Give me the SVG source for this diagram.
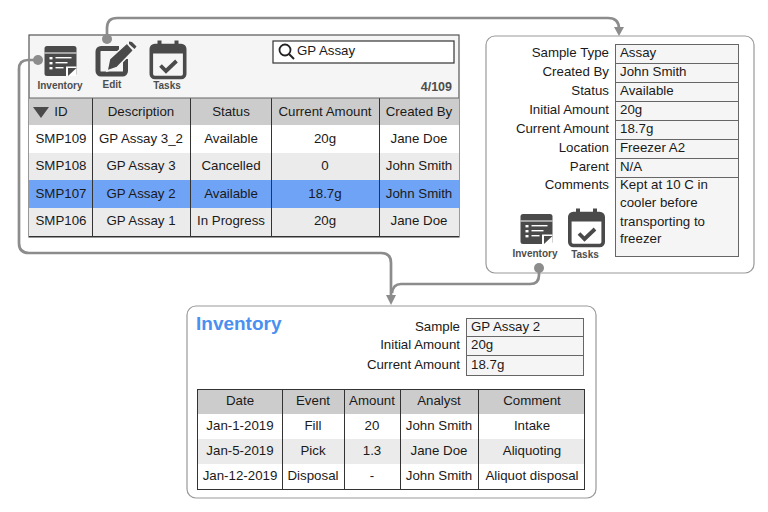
<svg xmlns="http://www.w3.org/2000/svg" width="768" height="512" viewBox="0 0 768 512">
<style>
text{font-family:"Liberation Sans",Arial,sans-serif;font-size:13.3px;fill:#1a1a1a;transform:translateY(-.6px)}
.m{text-anchor:middle}.e{text-anchor:end}
.ic{font-size:10px;font-weight:bold;fill:#4d4d4d;text-anchor:middle}
.card{fill:#fff;stroke:#999;stroke-width:1.2}
.ln{fill:none;stroke:#333;stroke-width:1}
.cell{fill:#f5f5f5;stroke:#666;stroke-width:1}
.conn{fill:none;stroke:#8c8c8c;stroke-width:2.7}
.dot{fill:#8c8c8c}
</style>
<defs>
<g id="inv"><rect x="0" y="0" width="32" height="30" rx="2.5" fill="#4a4a4a"/><path d="M0 7H32" stroke="#fff" stroke-width="1"/><path d="M21.500 30V20.500H32V30Z" fill="#fff"/><path d="M23.500 30V22H32Z" fill="#4a4a4a"/><g fill="#fff"><rect x="5" y="11" width="3" height="2.4"/><rect x="5" y="16" width="3" height="2.4"/><rect x="5" y="21" width="3" height="2.4"/><rect x="11" y="11" width="16" height="1.4"/><rect x="11" y="16" width="12" height="1.4"/><rect x="11" y="21" width="8" height="1.4"/></g></g>
<g id="task"><rect x="1.8" y="5" width="33.4" height="32" rx="3.5" fill="none" stroke="#4a4a4a" stroke-width="3.6"/><rect x="2" y="5" width="33" height="8" fill="#4a4a4a"/><rect x="8" y="0" width="4" height="8" fill="#4a4a4a"/><rect x="25" y="0" width="4" height="8" fill="#4a4a4a"/><path d="M11 25L16.500 30.500L27 20.500" fill="none" stroke="#4a4a4a" stroke-width="3.800"/></g>
</defs>

<g id="main-panel">
<rect x="29" y="35" width="430" height="202" fill="#f5f5f5" stroke="#555" stroke-width="1.2"/>
</g>
<g id="search"><rect x="273" y="41" width="181" height="22" fill="#fff" stroke="#333" stroke-width="1.2"/><circle cx="285" cy="50" r="5.500" fill="none" stroke="#222" stroke-width="1.800"/><path d="M289 54L294 59" stroke="#222" stroke-width="2"/><text x="297" y="56">GP Assay</text></g>
<text x="452" y="92" class="e" style="font-weight:bold;font-size:12.5px;fill:#4d4d4d">4/109</text>
<g id="icon-inventory"><use href="#inv" x="44.500" y="46"/><text x="60" y="90" class="ic">Inventory</text></g>
<g id="icon-edit"><path d="M119 48.500H101a3 3 0 0 0 -3 3V71a3 3 0 0 0 3 3H122.500a3 3 0 0 0 3 -3V59" fill="none" stroke="#4a4a4a" stroke-width="5"/><path d="M107 71L109.500 59L127 43L133.500 50.500L117 67.500Z" fill="#4a4a4a" stroke="#f5f5f5" stroke-width="1.500"/><path d="M129 41.500L132 42L136.500 46.500L134.500 49L129 44Z" fill="#4a4a4a"/><text x="112" y="89" class="ic">Edit</text></g>
<g id="icon-tasks"><use href="#task" x="149.500" y="40.500"/><text x="167" y="90" class="ic">Tasks</text></g>

<g id="main-table">
<rect x="29" y="98" width="430" height="27" fill="#ccc"/>
<rect x="29" y="125" width="430" height="28" fill="#fff"/>
<rect x="29" y="153" width="430" height="27" fill="#ebebeb"/>
<rect x="29" y="180" width="430" height="28" fill="#6fa3f5"/>
<rect x="29" y="208" width="430" height="28" fill="#ebebeb"/>
<path class="ln" d="M92.500 98V236M190.500 98V236M271.500 98V236M379.500 98V236" />
<path d="M29 98H459" stroke="#666" stroke-width="1.200"/>
<path d="M29 236.500H459" stroke="#333"/>
<path d="M33 107H49L41 118Z" fill="#4a4a4a"/>
<text x="61" y="117" class="m">ID</text><text x="141" y="117" class="m">Description</text><text x="231" y="117" class="m">Status</text><text x="325" y="117" class="m">Current Amount</text><text x="419" y="117" class="m">Created By</text>
<text x="61" y="144" class="m">SMP109</text><text x="141" y="144" class="m">GP Assay 3_2</text><text x="231" y="144" class="m">Available</text><text x="325" y="144" class="m">20g</text><text x="419" y="144" class="m">Jane Doe</text>
<text x="61" y="171" class="m">SMP108</text><text x="141" y="171" class="m">GP Assay 3</text><text x="231" y="171" class="m">Cancelled</text><text x="325" y="171" class="m">0</text><text x="419" y="171" class="m">John Smith</text>
<text x="61" y="199" class="m">SMP107</text><text x="141" y="199" class="m">GP Assay 2</text><text x="231" y="199" class="m">Available</text><text x="325" y="199" class="m">18.7g</text><text x="419" y="199" class="m">John Smith</text>
<text x="61" y="226" class="m">SMP106</text><text x="141" y="226" class="m">GP Assay 1</text><text x="231" y="226" class="m">In Progress</text><text x="325" y="226" class="m">20g</text><text x="419" y="226" class="m">Jane Doe</text>
</g>

<g id="detail-panel">
<rect x="486" y="36" width="268" height="237" rx="9" class="card"/>
<g>
<rect class="cell" x="615.500" y="44.500" width="123" height="19"/><rect class="cell" x="615.500" y="63.500" width="123" height="19"/><rect class="cell" x="615.500" y="82.500" width="123" height="19"/><rect class="cell" x="615.500" y="101.500" width="123" height="19"/><rect class="cell" x="615.500" y="120.500" width="123" height="19"/><rect class="cell" x="615.500" y="139.500" width="123" height="19"/><rect class="cell" x="615.500" y="158.500" width="123" height="19"/><rect class="cell" x="615.500" y="177.500" width="123" height="79"/>
</g>
<text x="609" y="58" class="e">Sample Type</text><text x="609" y="77" class="e">Created By</text><text x="609" y="96" class="e">Status</text><text x="609" y="115" class="e">Initial Amount</text><text x="609" y="134" class="e">Current Amount</text><text x="609" y="153" class="e">Location</text><text x="609" y="172" class="e">Parent</text><text x="609" y="190" class="e">Comments</text>
<text x="620" y="58">Assay</text><text x="620" y="77">John Smith</text><text x="620" y="96">Available</text><text x="620" y="115">20g</text><text x="620" y="134">18.7g</text><text x="620" y="153">Freezer A2</text><text x="620" y="172">N/A</text>
<text x="620" y="190">Kept at 10 C in</text><text x="620" y="208">cooler before</text><text x="620" y="227">transporting to</text><text x="620" y="244">freezer</text>
</g>
<g id="detail-icon-inventory"><use href="#inv" x="520.500" y="214"/><text x="535" y="258" class="ic">Inventory</text></g>
<g id="detail-icon-tasks"><use href="#task" x="568" y="208.500"/><text x="585" y="259" class="ic">Tasks</text></g>

<g id="inventory-panel">
<rect x="187" y="306" width="409" height="192" rx="9" class="card"/>
<text x="196" y="331" style="font-size:19px;font-weight:bold;fill:#4a90f0">Inventory</text>
<rect class="cell" x="466.500" y="318.500" width="117" height="18"/><rect class="cell" x="466.500" y="336.500" width="117" height="19"/><rect class="cell" x="466.500" y="355.500" width="117" height="20"/>
<text x="460" y="332" class="e">Sample</text><text x="460" y="350" class="e">Initial Amount</text><text x="460" y="370" class="e">Current Amount</text>
<text x="471" y="332">GP Assay 2</text><text x="471" y="350">20g</text><text x="471" y="370">18.7g</text>
<rect x="197" y="389" width="388" height="25" fill="#ccc"/>
<rect x="197" y="439" width="388" height="25" fill="#ebebeb"/>
<rect x="197.500" y="389.500" width="387" height="100" fill="none" stroke="#333"/>
<path class="ln" d="M282.500 389V489M344.500 389V489M400.500 389V489M478.500 389V489"/>
<text x="240" y="406" class="m">Date</text><text x="313" y="406" class="m">Event</text><text x="372" y="406" class="m">Amount</text><text x="439" y="406" class="m">Analyst</text><text x="532" y="406" class="m">Comment</text>
<text x="240" y="431" class="m">Jan-1-2019</text><text x="313" y="431" class="m">Fill</text><text x="372" y="431" class="m">20</text><text x="439" y="431" class="m">John Smith</text><text x="532" y="431" class="m">Intake</text>
<text x="240" y="456" class="m">Jan-5-2019</text><text x="313" y="456" class="m">Pick</text><text x="372" y="456" class="m">1.3</text><text x="439" y="456" class="m">Jane Doe</text><text x="532" y="456" class="m">Aliquoting</text>
<text x="240" y="481" class="m">Jan-12-2019</text><text x="313" y="481" class="m">Disposal</text><text x="372" y="481" class="m">-</text><text x="439" y="481" class="m">John Smith</text><text x="532" y="481" class="m">Aliquot disposal</text>
</g>

<g id="connectors">
<path class="conn" d="M107 39V28Q107 18 117 18H608Q619 18 619 29V31"/>
<path class="dot" d="M614 27H624L619 36Z"/>
<circle class="dot" cx="107" cy="39" r="5"/>
<path class="conn" d="M38 60H28Q19 60 19 69V243Q19 253 29 253H381Q391 253 391 263V297"/>
<path class="dot" d="M386 295H396L391 305Z"/>
<circle class="dot" cx="38" cy="60" r="5"/>
<path class="conn" d="M539 268V275Q539 284 530 284H401Q393 284 392 293"/>
<circle class="dot" cx="539" cy="268" r="5"/>
</g>
</svg>
